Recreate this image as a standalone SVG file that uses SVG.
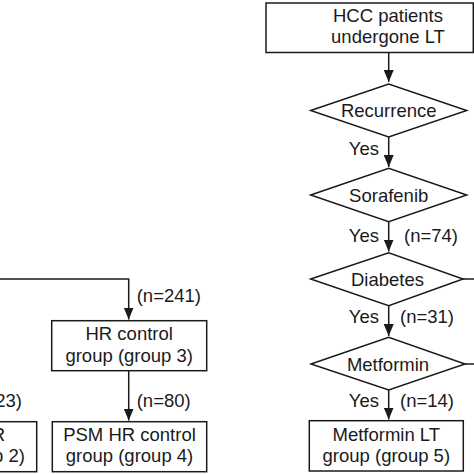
<svg xmlns="http://www.w3.org/2000/svg" width="474" height="474" viewBox="0 0 474 474">
<style>
.box{fill:#fff;stroke:#1a1a1a;stroke-width:1.5}
.ln{fill:none;stroke:#1a1a1a;stroke-width:1.5}
text{font-family:"Liberation Sans",Arial,sans-serif;font-size:18.5px;fill:#1a1a1a}
.c{text-anchor:middle}
.e{text-anchor:end}
</style>
<defs>
<marker id="ah" viewBox="0 0 12 10" refX="12" refY="5" markerWidth="12" markerHeight="10" markerUnits="userSpaceOnUse" orient="auto">
<path d="M0,0 L12,5 L0,10 Z" fill="#1a1a1a"/>
</marker>
</defs>
<rect width="474" height="474" fill="#fff"/>
<g id="connectors">
<line class="ln" x1="388.7" y1="52.5" x2="388.7" y2="82" marker-end="url(#ah)"/>
<line class="ln" x1="388.7" y1="137" x2="388.7" y2="167" marker-end="url(#ah)"/>
<line class="ln" x1="388.7" y1="222" x2="388.7" y2="251.5" marker-end="url(#ah)"/>
<line class="ln" x1="388.7" y1="306" x2="388.7" y2="336" marker-end="url(#ah)"/>
<line class="ln" x1="388.7" y1="390" x2="388.7" y2="419.5" marker-end="url(#ah)"/>
<line class="ln" x1="463" y1="279" x2="474" y2="279"/>
<line class="ln" x1="465" y1="364" x2="474" y2="364"/>
<polyline class="ln" points="0,279 128.7,279 128.7,319.5" marker-end="url(#ah)"/>
<line class="ln" x1="128.7" y1="371" x2="128.7" y2="420.5" marker-end="url(#ah)"/>
<text x="379" y="155" class="e">Yes</text>
<text x="379" y="241.7" class="e">Yes</text>
<text x="404" y="241.7">(n=74)</text>
<text x="379" y="323" class="e">Yes</text>
<text x="400" y="323">(n=31)</text>
<text x="379" y="406.7" class="e">Yes</text>
<text x="400" y="406.7">(n=14)</text>
<text x="136.7" y="301.7">(n=241)</text>
<text x="136.7" y="407.3">(n=80)</text>
<text x="22" y="407" class="e">23)</text>
</g>
<g id="hcc">
<rect class="box" x="266" y="3" width="207.3" height="49.5"/>
<text x="388" y="22.3" class="c">HCC patients</text>
<text x="388" y="43.3" class="c">undergone LT</text>
</g>
<g id="recurrence">
<polygon class="box" points="310.7,110.5 388.7,84 466.7,110.5 388.7,137"/>
<text x="388.7" y="117.3" class="c">Recurrence</text>
</g>
<g id="sorafenib">
<polygon class="box" points="310.7,195 388.7,168.3 466.7,195 388.7,221.7"/>
<text x="388.7" y="201.7" class="c">Sorafenib</text>
</g>
<g id="diabetes">
<polygon class="box" points="310.7,279 388.7,252.7 463,279 388.7,305.7"/>
<text x="387.5" y="286" class="c">Diabetes</text>
</g>
<g id="metformin">
<polygon class="box" points="311,364 388.7,337.3 465,364 388.7,390"/>
<text x="388" y="370.5" class="c">Metformin</text>
</g>
<g id="metformin-lt">
<rect class="box" x="309.3" y="420.7" width="154" height="50.3"/>
<text x="386.3" y="440.7" class="c">Metformin LT</text>
<text x="386.3" y="461.7" class="c">group (group 5)</text>
</g>
<g id="hr-control">
<rect class="box" x="51.7" y="320.7" width="155" height="50"/>
<text x="129.2" y="340" class="c">HR control</text>
<text x="129.2" y="361.7" class="c">group (group 3)</text>
</g>
<g id="psm-hr-control">
<rect class="box" x="52.3" y="421.7" width="154.4" height="50"/>
<text x="129.5" y="440.7" class="c">PSM HR control</text>
<text x="129.5" y="461.7" class="c">group (group 4)</text>
</g>
<g id="group2">
<rect class="box" x="-120" y="421.7" width="156.7" height="50"/>
<text x="5" y="440.7" class="e">HR</text>
<text x="25" y="461.7" class="e">group (group 2)</text>
</g>
</svg>
